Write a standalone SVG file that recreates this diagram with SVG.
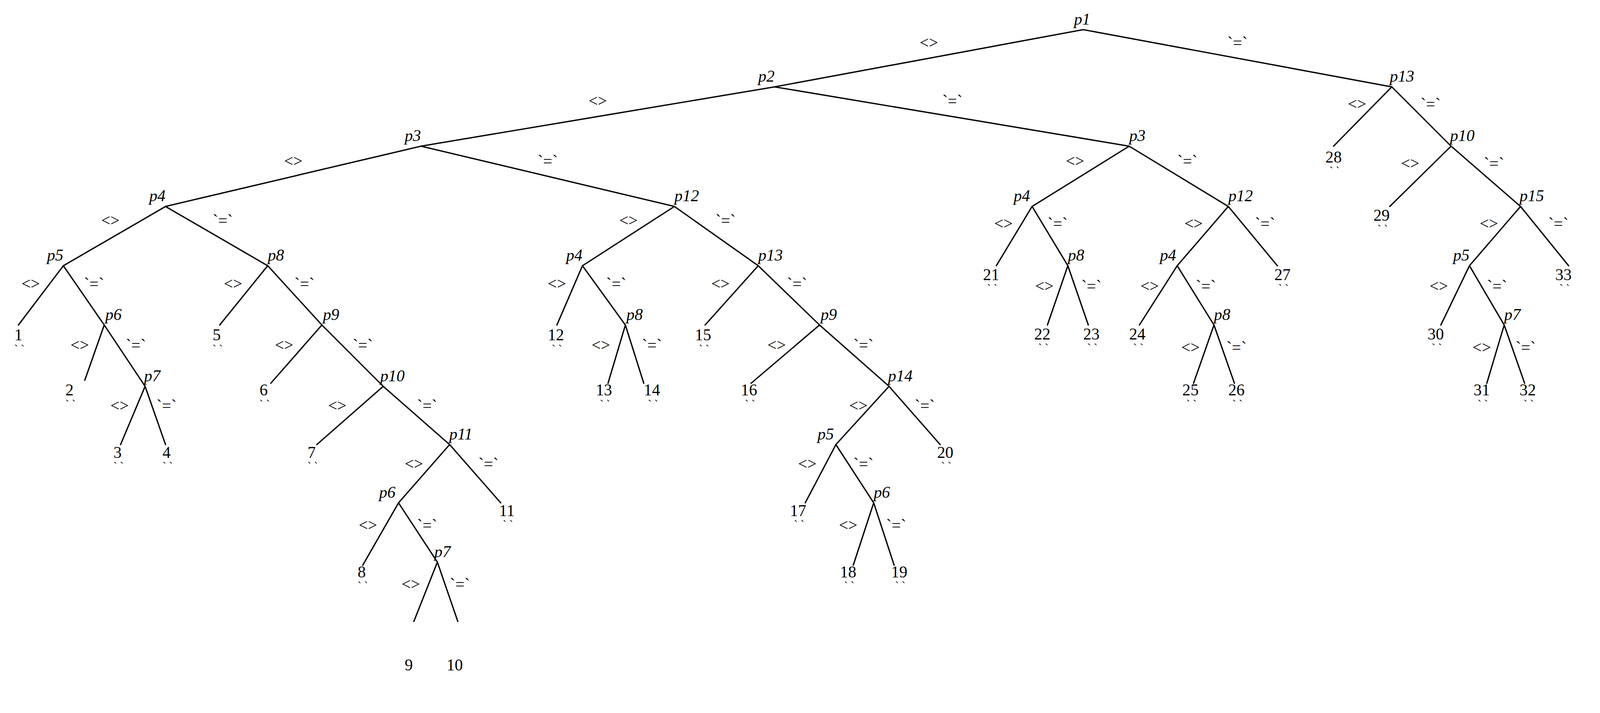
<svg xmlns="http://www.w3.org/2000/svg" width="4265" height="1825" viewBox="0 0 4265 1825">
<style>
.e{stroke:#000;stroke-width:1.3;fill:none;stroke-linecap:round}
.n{font-family:"Liberation Serif",serif;font-style:italic;font-size:16px;text-anchor:middle}
.l{font-family:"Liberation Serif",serif;font-size:16px;text-anchor:middle}
.t{font-family:"Liberation Serif",serif;font-size:11px;text-anchor:middle}
.a{font-family:"Liberation Serif",serif;font-size:16px;text-anchor:middle}
</style>
<rect width="4265" height="1825" fill="#fff"/>
<g transform="scale(2.616)">
<g id="connectors">
<path class="e" d="M1060,29L758,85M1060,29L1362,85M758,85L412,143M758,85L1105,143M412,143L162,202M412,143L660,202M162,202L62,260M162,202L262,260M62,260L18,318M62,260L102,318M102,318L83,372M102,318L142,378M142,378L118,435M142,378L162,435M262,260L215,318M262,260L315,318M315,318L265,375M315,318L375,378M375,378L310,435M375,378L440,435M440,435L390,492M440,435L490,492M390,492L355,553M390,492L428,550M428,550L405,608M428,550L448,608M660,202L570,260M660,202L742,260M570,260L545,318M570,260L612,318M612,318L595,375M612,318L630,375M742,260L690,318M742,260L802,318M802,318L735,375M802,318L870,378M870,378L818,435M870,378L920,435M818,435L788,492M818,435L855,492M855,492L835,553M855,492L875,553M1105,143L1010,202M1105,143L1202,202M1010,202L975,260M1010,202L1045,260M1045,260L1025,318M1045,260L1065,318M1202,202L1152,260M1202,202L1250,260M1152,260L1115,318M1152,260L1188,318M1188,318L1168,375M1188,318L1208,375M1362,85L1305,143M1362,85L1420,143M1420,143L1360,202M1420,143L1488,202M1488,202L1438,260M1488,202L1535,260M1438,260L1410,318M1438,260L1472,318M1472,318L1455,375M1472,318L1492,375"/>
<g class="a">
<text x="909" y="47">&lt;&gt;</text><text x="1211" y="47">`=`</text>
<text x="585" y="104">&lt;&gt;</text><text x="932" y="104">`=`</text>
<text x="287" y="163">&lt;&gt;</text><text x="536" y="163">`=`</text>
<text x="108" y="221">&lt;&gt;</text><text x="218" y="221">`=`</text>
<text x="30" y="283">&lt;&gt;</text><text x="92" y="283">`=`</text>
<text x="78" y="343">&lt;&gt;</text><text x="133" y="343">`=`</text>
<text x="117" y="402">&lt;&gt;</text><text x="163" y="402">`=`</text>
<text x="228" y="283">&lt;&gt;</text><text x="298" y="283">`=`</text>
<text x="278" y="343">&lt;&gt;</text><text x="355" y="343">`=`</text>
<text x="330" y="402">&lt;&gt;</text><text x="418" y="402">`=`</text>
<text x="405" y="459">&lt;&gt;</text><text x="478" y="459">`=`</text>
<text x="360" y="519">&lt;&gt;</text><text x="418" y="519">`=`</text>
<text x="402" y="577">&lt;&gt;</text><text x="450" y="577">`=`</text>
<text x="615" y="221">&lt;&gt;</text><text x="710" y="221">`=`</text>
<text x="545" y="283">&lt;&gt;</text><text x="603" y="283">`=`</text>
<text x="588" y="343">&lt;&gt;</text><text x="638" y="343">`=`</text>
<text x="705" y="283">&lt;&gt;</text><text x="780" y="283">`=`</text>
<text x="760" y="343">&lt;&gt;</text><text x="845" y="343">`=`</text>
<text x="840" y="402">&lt;&gt;</text><text x="905" y="402">`=`</text>
<text x="790" y="459">&lt;&gt;</text><text x="845" y="459">`=`</text>
<text x="830" y="519">&lt;&gt;</text><text x="877" y="519">`=`</text>
<text x="1052" y="163">&lt;&gt;</text><text x="1162" y="163">`=`</text>
<text x="982" y="224">&lt;&gt;</text><text x="1035" y="224">`=`</text>
<text x="1022" y="285">&lt;&gt;</text><text x="1068" y="285">`=`</text>
<text x="1168" y="224">&lt;&gt;</text><text x="1238" y="224">`=`</text>
<text x="1125" y="285">&lt;&gt;</text><text x="1180" y="285">`=`</text>
<text x="1165" y="345">&lt;&gt;</text><text x="1210" y="345">`=`</text>
<text x="1328" y="107">&lt;&gt;</text><text x="1400" y="107">`=`</text>
<text x="1380" y="165">&lt;&gt;</text><text x="1462" y="165">`=`</text>
<text x="1457" y="224">&lt;&gt;</text><text x="1525" y="224">`=`</text>
<text x="1408" y="285">&lt;&gt;</text><text x="1465" y="285">`=`</text>
<text x="1450" y="345">&lt;&gt;</text><text x="1493" y="345">`=`</text>
</g>
</g>
<g id="p1"><text class="n" x="1059" y="24">p1</text></g>
<g id="p2"><text class="n" x="750" y="80">p2</text></g>
<g id="p3a"><text class="n" x="404" y="138">p3</text></g>
<g id="p4a"><text class="n" x="154" y="197">p4</text></g>
<g id="p5a"><text class="n" x="54" y="255">p5</text></g>
<g id="p6a"><text class="n" x="111" y="313">p6</text></g>
<g id="p7a"><text class="n" x="149" y="373">p7</text></g>
<g id="p8a"><text class="n" x="270" y="255">p8</text></g>
<g id="p9a"><text class="n" x="324" y="313">p9</text></g>
<g id="p10a"><text class="n" x="384" y="373">p10</text></g>
<g id="p11a"><text class="n" x="451" y="430">p11</text></g>
<g id="p6b"><text class="n" x="379" y="487">p6</text></g>
<g id="p7b"><text class="n" x="433" y="545">p7</text></g>
<g id="p12a"><text class="n" x="672" y="197">p12</text></g>
<g id="p4b"><text class="n" x="562" y="255">p4</text></g>
<g id="p8b"><text class="n" x="621" y="313">p8</text></g>
<g id="p13a"><text class="n" x="754" y="255">p13</text></g>
<g id="p9b"><text class="n" x="811" y="313">p9</text></g>
<g id="p14"><text class="n" x="881" y="373">p14</text></g>
<g id="p5b"><text class="n" x="808" y="430">p5</text></g>
<g id="p6c"><text class="n" x="863" y="487">p6</text></g>
<g id="p3b"><text class="n" x="1113" y="138">p3</text></g>
<g id="p4c"><text class="n" x="1000" y="197">p4</text></g>
<g id="p8c"><text class="n" x="1053" y="255">p8</text></g>
<g id="p12b"><text class="n" x="1214" y="197">p12</text></g>
<g id="p4d"><text class="n" x="1143" y="255">p4</text></g>
<g id="p8d"><text class="n" x="1196" y="313">p8</text></g>
<g id="p13b"><text class="n" x="1372" y="80">p13</text></g>
<g id="p10b"><text class="n" x="1431" y="138">p10</text></g>
<g id="p15"><text class="n" x="1499" y="197">p15</text></g>
<g id="p5c"><text class="n" x="1430" y="255">p5</text></g>
<g id="p7c"><text class="n" x="1480" y="313">p7</text></g>
<g id="leaves">
<g id="l1"><text class="l" x="18" y="333">1</text><text class="t" x="19" y="345">` `</text></g>
<g id="l2"><text class="l" x="68" y="387">2</text><text class="t" x="69" y="399">` `</text></g>
<g id="l3"><text class="l" x="115" y="448">3</text><text class="t" x="116" y="460">` `</text></g>
<g id="l4"><text class="l" x="163" y="448">4</text><text class="t" x="164" y="460">` `</text></g>
<g id="l5"><text class="l" x="212" y="333">5</text><text class="t" x="213" y="345">` `</text></g>
<g id="l6"><text class="l" x="258" y="387">6</text><text class="t" x="259" y="399">` `</text></g>
<g id="l7"><text class="l" x="305" y="448">7</text><text class="t" x="306" y="460">` `</text></g>
<g id="l8"><text class="l" x="354" y="565">8</text><text class="t" x="355" y="577">` `</text></g>
<g id="l9"><text class="l" x="400" y="656">9</text></g>
<g id="l10"><text class="l" x="445" y="656">10</text></g>
<g id="l11"><text class="l" x="496" y="505">11</text><text class="t" x="497" y="517">` `</text></g>
<g id="l12"><text class="l" x="544" y="333">12</text><text class="t" x="545" y="345">` `</text></g>
<g id="l13"><text class="l" x="591" y="387">13</text><text class="t" x="592" y="399">` `</text></g>
<g id="l14"><text class="l" x="638" y="387">14</text><text class="t" x="639" y="399">` `</text></g>
<g id="l15"><text class="l" x="688" y="333">15</text><text class="t" x="689" y="345">` `</text></g>
<g id="l16"><text class="l" x="733" y="387">16</text><text class="t" x="734" y="399">` `</text></g>
<g id="l17"><text class="l" x="781" y="505">17</text><text class="t" x="782" y="517">` `</text></g>
<g id="l18"><text class="l" x="830" y="565">18</text><text class="t" x="831" y="577">` `</text></g>
<g id="l19"><text class="l" x="880" y="565">19</text><text class="t" x="881" y="577">` `</text></g>
<g id="l20"><text class="l" x="925" y="448">20</text><text class="t" x="926" y="460">` `</text></g>
<g id="l21"><text class="l" x="970" y="274">21</text><text class="t" x="971" y="286">` `</text></g>
<g id="l22"><text class="l" x="1020" y="332">22</text><text class="t" x="1021" y="344">` `</text></g>
<g id="l23"><text class="l" x="1068" y="332">23</text><text class="t" x="1069" y="344">` `</text></g>
<g id="l24"><text class="l" x="1113" y="332">24</text><text class="t" x="1114" y="344">` `</text></g>
<g id="l25"><text class="l" x="1165" y="387">25</text><text class="t" x="1166" y="399">` `</text></g>
<g id="l26"><text class="l" x="1210" y="387">26</text><text class="t" x="1211" y="399">` `</text></g>
<g id="l27"><text class="l" x="1255" y="274">27</text><text class="t" x="1256" y="286">` `</text></g>
<g id="l28"><text class="l" x="1305" y="159">28</text><text class="t" x="1306" y="171">` `</text></g>
<g id="l29"><text class="l" x="1352" y="216">29</text><text class="t" x="1353" y="228">` `</text></g>
<g id="l30"><text class="l" x="1405" y="332">30</text><text class="t" x="1406" y="344">` `</text></g>
<g id="l31"><text class="l" x="1450" y="387">31</text><text class="t" x="1451" y="399">` `</text></g>
<g id="l32"><text class="l" x="1495" y="387">32</text><text class="t" x="1496" y="399">` `</text></g>
<g id="l33"><text class="l" x="1530" y="274">33</text><text class="t" x="1531" y="286">` `</text></g>
</g>
</g>
</svg>
